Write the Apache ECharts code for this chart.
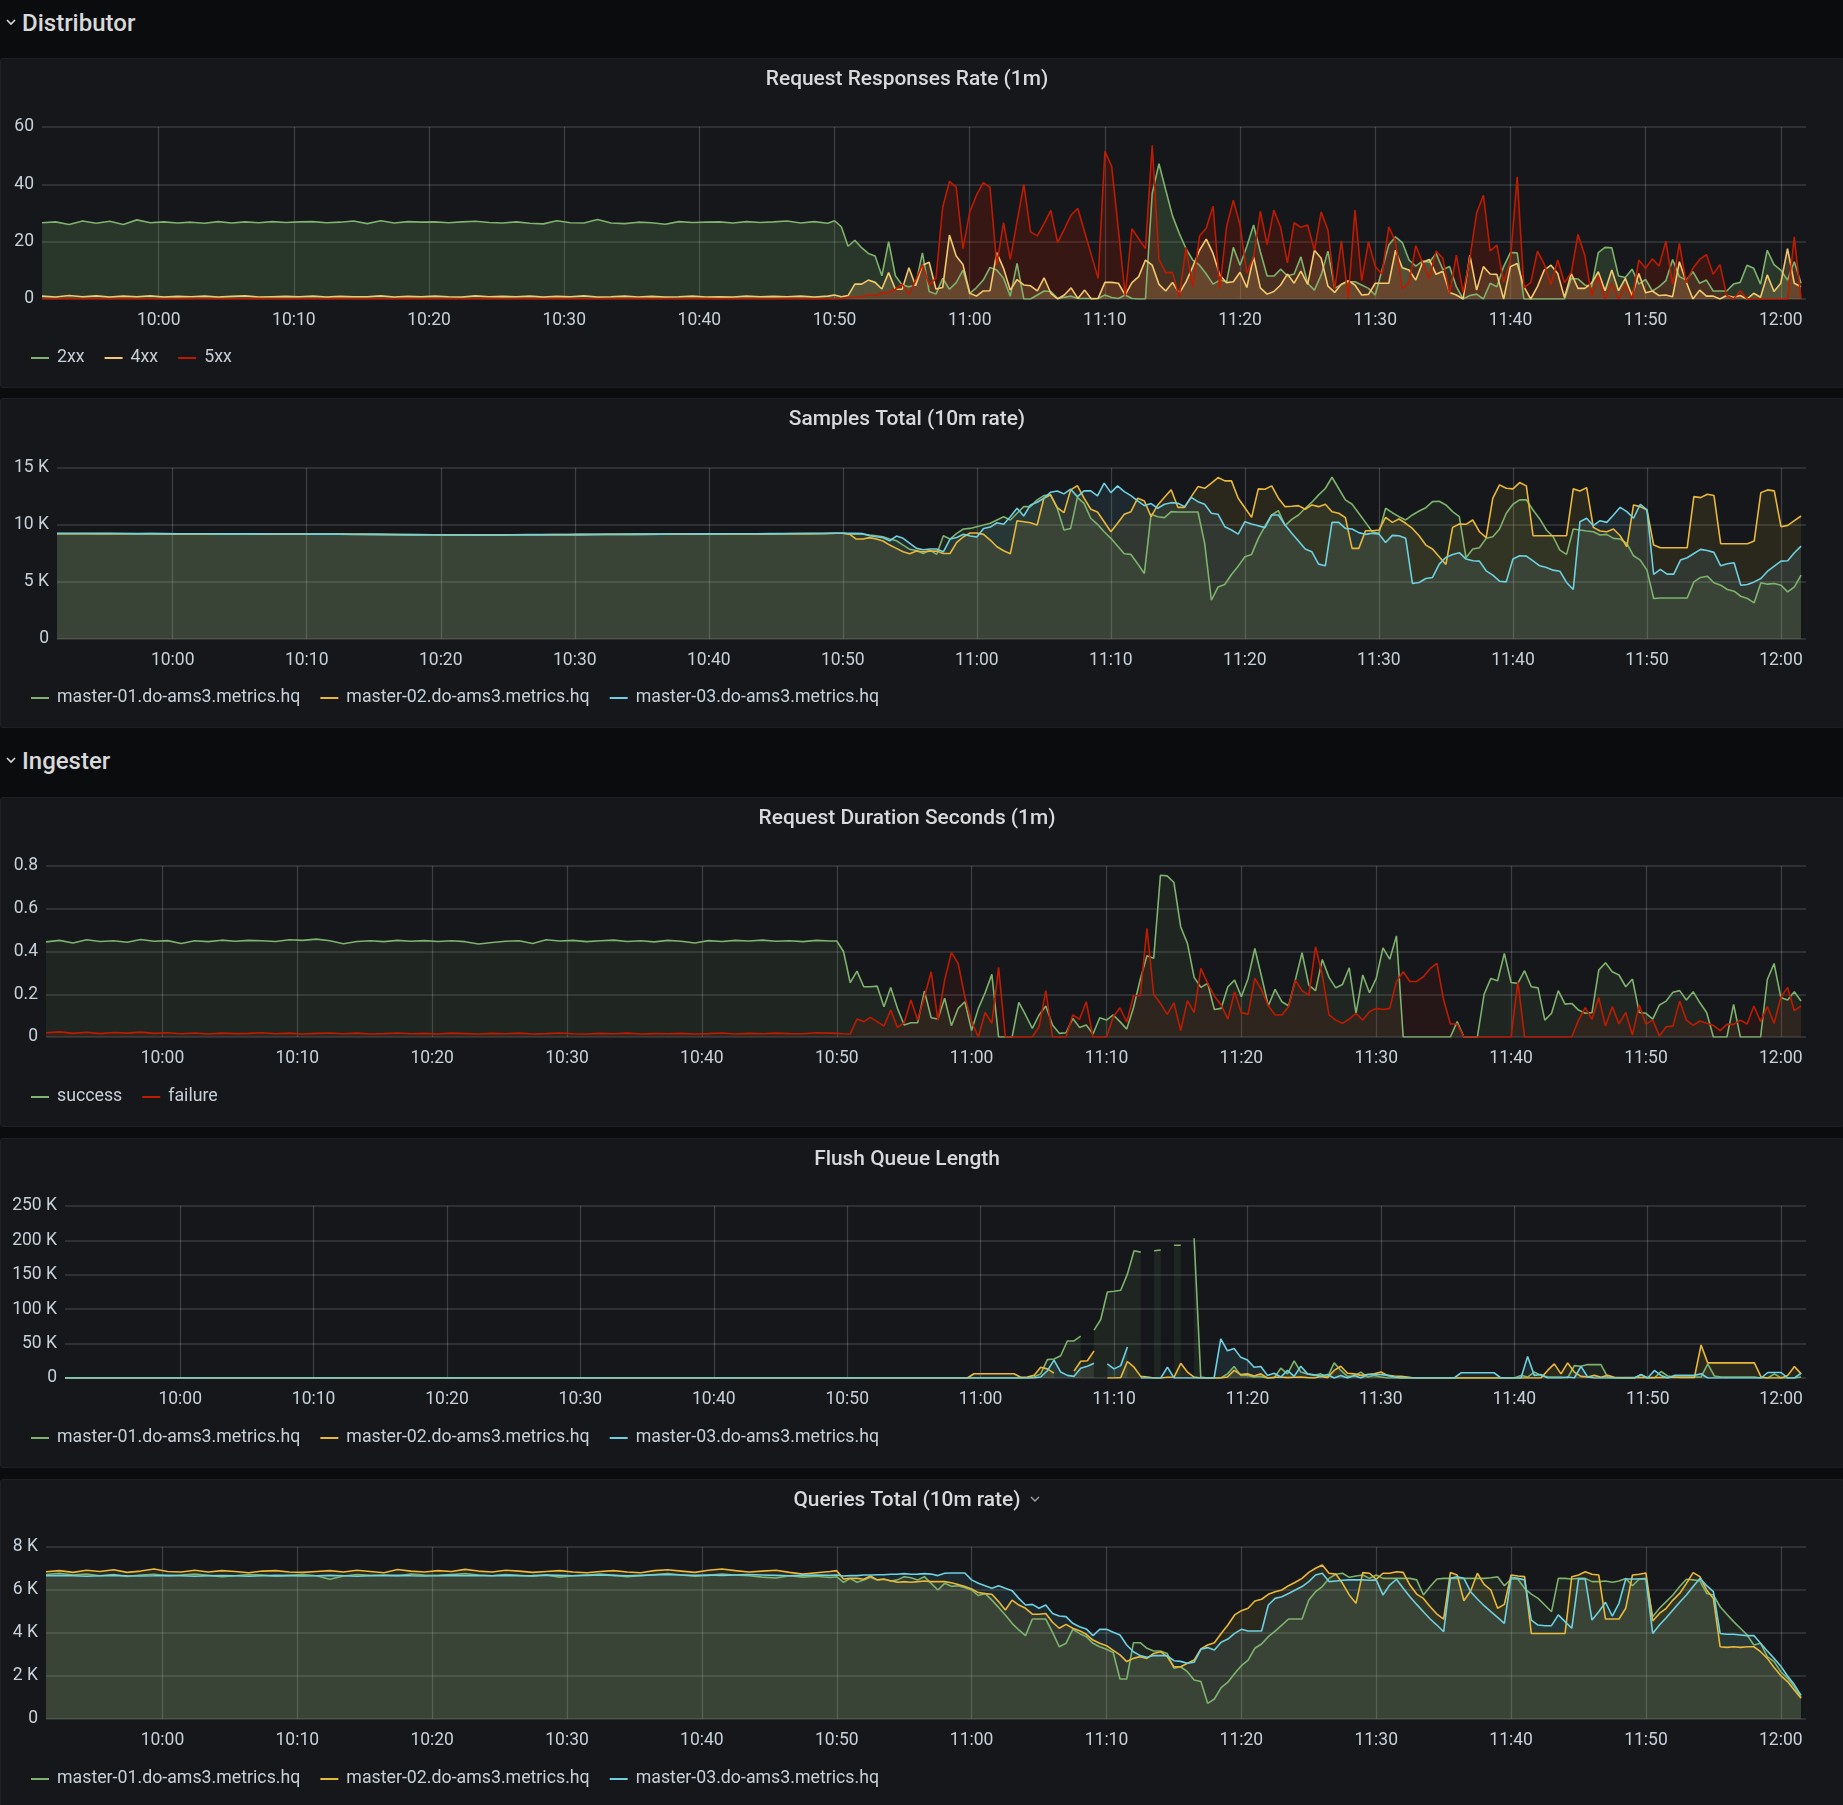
<!DOCTYPE html>
<html>
<head>
<meta charset="utf-8">
<title>Cortex dashboard</title>
<script src="https://cdn.jsdelivr.net/npm/echarts@6/dist/echarts.min.js"></script>
<style>
html, body { margin: 0; padding: 0; width: 1843px; height: 1805px; overflow: hidden; background: #0b0c0e; }
.row-title { position: absolute; left: 22px; color: #d8d9da; font: 500 24px Roboto, sans-serif; line-height: 26px; }
.chevron { position: absolute; }
.panel { position: absolute; left: 0; width: 1842px; height: 328px; background: #15171a; border: 1px solid #1e2023; border-radius: 3px; overflow: hidden; }
.chart { position: absolute; left: -1px; top: -1px; width: 1843px; height: 329px; }
</style>
</head>
<body>
<svg class="chevron" style="left:5px;top:18px" width="12" height="10"><polyline points="2,2 6,6 10,2" fill="none" stroke="#d8d9da" stroke-width="1.6"/></svg>
<div class="row-title" style="top:10px">Distributor</div>
<div class="panel" style="top:58px"><div class="chart" id="panel_responses"></div></div>
<div class="panel" style="top:398px"><div class="chart" id="panel_samples"></div></div>
<svg class="chevron" style="left:5px;top:756px" width="12" height="10"><polyline points="2,2 6,6 10,2" fill="none" stroke="#d8d9da" stroke-width="1.6"/></svg>
<div class="row-title" style="top:748px">Ingester</div>
<div class="panel" style="top:797px"><div class="chart" id="panel_duration"></div></div>
<div class="panel" style="top:1138px"><div class="chart" id="panel_flush"></div></div>
<div class="panel" style="top:1479px"><div class="chart" id="panel_queries"></div></div>
<svg class="chevron" style="left:1029px;top:1495px" width="12" height="10"><polyline points="2,2 6,6 10,2" fill="none" stroke="#9fa3a8" stroke-width="1.4"/></svg>
<script>
// quiet part, roughly one point a minute, up to 10:49:30
var flat2xx = [26.6,26.9,26.0,27.2,26.4,27.1,26.0,27.6,26.6,26.9,26.5,26.8,26.4,27.0,26.5,26.9,26.6,27.0,26.7,26.9,27.0,26.6,26.8,27.2,26.3,27.3,26.5,27.0,26.8,26.9,26.6,26.9,27.1,26.7,26.5,26.9,26.4,26.2,27.3,26.6,26.5,27.7,26.5,26.3,26.8,26.6,26.1,27.0,26.7,26.8,26.9,26.5,27.0,26.7,26.9,27.2,26.5,27.0,26.4];
var flat4xx = [1.0,0.7,1.2,0.8,1.1,0.7,1.0,0.8,1.1,0.7,0.9,0.8,1.0,0.7,0.9,1.1,0.7,0.8,0.9,0.8,1.0,0.7,0.9,0.8,0.8,1.1,0.7,0.9,0.8,1.0,0.8,0.7,1.1,0.8,0.9,0.8,1.0,0.7,0.9,0.8,1.1,0.7,0.8,1.0,0.7,0.9,0.7,0.8,1.0,0.7,0.8,0.7,1.0,0.8,0.9,0.8,1.0,0.7,1.0];
var flat5xx = [0.1,0.1,0.2,0.1,0.1,0.1,0.2,0.1,0.1,0.1,0.1,0.2,0.1,0.1,0.1,0.1,0.2,0.1,0.1,0.1,0.1,0.1,0.2,0.1,0.1,0.1,0.1,0.2,0.1,0.1,0.1,0.1,0.1,0.2,0.1,0.1,0.1,0.1,0.2,0.1,0.1,0.1,0.1,0.1,0.2,0.1,0.1,0.1,0.1,0.2,0.1,0.1,0.1,0.1,0.1,0.2,0.1,0.1,0.1];
var flatSamples01 = [9.25,9.25,9.25,9.24,9.24,9.24,9.23,9.23,9.23,9.22,9.22,9.22,9.22,9.21,9.21,9.21,9.2,9.2,9.2,9.2,9.2,9.19,9.19,9.18,9.18,9.17,9.16,9.15,9.15,9.14,9.14,9.13,9.13,9.13,9.14,9.14,9.15,9.15,9.16,9.16,9.17,9.17,9.18,9.18,9.19,9.19,9.2,9.2,9.21,9.21,9.21,9.22,9.22,9.22,9.23,9.23,9.24,9.25,9.27];
var flatSamples02 = [9.24,9.24,9.24,9.25,9.24,9.23,9.23,9.24,9.22,9.22,9.23,9.22,9.21,9.21,9.22,9.2,9.2,9.21,9.2,9.19,9.19,9.2,9.18,9.18,9.17,9.16,9.15,9.15,9.14,9.13,9.13,9.12,9.13,9.13,9.14,9.15,9.15,9.16,9.15,9.16,9.17,9.18,9.18,9.19,9.18,9.19,9.2,9.21,9.2,9.21,9.22,9.22,9.23,9.22,9.23,9.24,9.24,9.25,9.27];
var flatSamples03 = [9.26,9.26,9.26,9.25,9.25,9.25,9.24,9.24,9.24,9.23,9.23,9.23,9.22,9.22,9.22,9.22,9.21,9.21,9.21,9.2,9.2,9.2,9.19,9.19,9.18,9.17,9.16,9.16,9.15,9.15,9.14,9.14,9.14,9.15,9.15,9.16,9.16,9.17,9.17,9.18,9.18,9.19,9.19,9.2,9.2,9.2,9.21,9.21,9.22,9.22,9.23,9.23,9.23,9.24,9.24,9.25,9.25,9.26,9.27];
var flatSuccess = [.445,.452,.44,.455,.447,.45,.443,.456,.448,.451,.437,.45,.446,.453,.448,.452,.45,.447,.455,.452,.458,.45,.436,.447,.45,.446,.452,.448,.451,.447,.45,.446,.435,.442,.448,.45,.437,.455,.449,.452,.446,.45,.453,.447,.45,.445,.452,.448,.44,.451,.447,.452,.449,.453,.448,.45,.446,.452,.449];
var flatFailure = [.02,.024,.017,.022,.016,.021,.018,.023,.017,.02,.015,.019,.014,.018,.016,.017,.02,.015,.018,.014,.017,.019,.015,.018,.014,.016,.019,.015,.017,.014,.018,.016,.014,.017,.015,.018,.014,.016,.019,.015,.014,.017,.015,.018,.014,.016,.015,.017,.014,.016,.019,.014,.017,.015,.018,.016,.015,.02,.018];
var flatFlush01 = [0,0,0,0,0,0,0,0,0,0,0,0,0,0,0,0,0,0,0,0,0,0,0,0,0,0,0,0,0,0,0,0,0,0,0,0,0,0,0,0,0,0,0,0,0,0,0,0,0,0,0,0,0,0,0,0,0,0,0];
var flatFlush02 = [0,0,0,0,0,0,0,0,0,0,0,0,0,0,0,0,0,0,0,0,0,0,0,0,0,0,0,0,0,0,0,0,0,0,0,0,0,0,0,0,0,0,0,0,0,0,0,0,0,0,0,0,0,0,0,0,0,0,0];
var flatFlush03 = [0,0,0,0,0,0,0,0,0,0,0,0,0,0,0,0,0,0,0,0,0,0,0,0,0,0,0,0,0,0,0,0,0,0,0,0,0,0,0,0,0,0,0,0,0,0,0,0,0,0,0,0,0,0,0,0,0,0,0];
var flatQueries01 = [6.72,6.78,6.7,6.74,6.66,6.72,6.63,6.7,6.73,6.66,6.7,6.74,6.68,6.62,6.66,6.72,6.7,6.64,6.68,6.72,6.66,6.5,6.65,6.72,6.68,6.7,6.66,6.74,6.7,6.68,6.72,6.76,6.7,6.66,6.72,6.68,6.64,6.7,6.6,6.66,6.7,6.74,6.68,6.62,6.66,6.72,6.76,6.7,6.64,6.68,6.74,6.7,6.66,6.6,6.56,6.66,6.6,6.64,6.58];
var flatQueries02 = [6.85,6.9,6.82,6.92,6.86,6.94,6.82,6.88,6.98,6.86,6.84,6.92,6.84,6.9,6.86,6.8,6.88,6.9,6.84,6.82,6.86,6.9,6.84,6.92,6.86,6.8,6.95,6.88,6.84,6.9,6.86,6.96,6.88,6.84,6.92,6.88,6.82,6.86,6.9,6.84,6.8,6.86,6.9,6.84,6.8,6.9,6.94,6.88,6.82,6.92,6.98,6.9,6.84,6.88,6.92,6.82,6.74,6.8,6.86];
var flatQueries03 = [6.66,6.68,6.66,6.64,6.66,6.68,6.66,6.65,6.66,6.68,6.66,6.64,6.66,6.67,6.66,6.64,6.66,6.68,6.67,6.65,6.66,6.68,6.66,6.64,6.66,6.67,6.68,6.66,6.65,6.66,6.68,6.66,6.67,6.66,6.68,6.66,6.67,6.69,6.68,6.66,6.68,6.7,6.68,6.66,6.68,6.7,6.72,6.7,6.68,6.7,6.68,6.7,6.72,6.7,6.68,6.66,6.68,6.7,6.68];

// busy part, one point every 30 s from 10:50:00 on
var active2xx = [27.3,25.2,18.4,20.5,17.9,15.9,15,8.1,20,8.1,
    4.9,4.3,4.9,16.1,2.6,1.7,7.2,3.4,5.7,10.1,
    2,4,6.6,11,10.1,7.2,1,12.4,0,0,
    1.4,2.8,2.6,.2,.6,1,.2,.2,.2,.2,
    1.4,.5,.2,1.4,.2,0,0,36.8,47.2,38,
    29,22.9,17.6,13.6,11.8,8.7,5.2,6.6,6,18,
    11.8,18.4,25.8,16.5,8,8,10.4,8.1,8.7,14.7,
    5.5,3.1,8.4,16.7,3.7,5.1,6,6,4.9,3.7,
    1.4,10.1,18.8,21.7,19.7,13.6,11.5,13.2,12.8,15.9,
    10.3,11.3,4.3,0,1.2,1.7,0,5.5,4.3,11.3,
    16.2,16.1,0,0,0,0,0,0,0,7.2,
    7,4.9,4.3,16.2,18,17.9,8,7.5,10.4,5.2,
    6.8,2.8,4.3,6.4,13.8,7.8,6.6,9.5,5.5,6.6,
    2.8,2.8,2.8,5.2,5.8,11.8,10.7,5.2,17,12,
    10.1,6.6,13,5.5];
var active4xx = [1.4,.8,1.2,5.2,5.2,6.6,5.8,3.5,9.2,3.4,
    3.4,10.9,4.6,11.8,12.8,3.5,4,22.3,15,12,
    2,1,2.8,2.9,16.2,10.7,3.1,6.8,4.9,4.6,
    2.8,7.4,2,0,1.4,3.9,.2,3.1,0,.2,
    5.8,5.8,5.5,1.4,5.7,7.8,13.6,11.8,5.1,2.8,
    5.8,2,6,11.3,17,20.9,15.9,8.4,5.7,6,
    9.3,4,14.7,3.9,1.7,2.6,4.9,8.7,5.5,9.7,
    5.1,17,14.2,4.5,2.3,5.2,6.4,4.9,1.4,1.6,
    5.5,5.5,5.5,17,10.9,10.1,6.6,12.8,13.8,8.6,
    9.7,2.3,1.4,0,15.3,3.1,11.3,8.7,8.6,0,
    11.3,12.4,4.3,0,4.3,10.1,11.8,8.9,.5,8.9,
    3.7,3.7,5.5,9.5,2.9,10.1,2.9,7.2,1.2,8.9,
    2.2,2.8,1.2,1.4,.8,13,6,0,3.1,1,
    1,0,1.2,.6,1.2,0,2,.6,8.4,2.6,
    5.5,17.6,5.5,4.3];
var active5xx = [0,.2,.5,.6,.8,1.4,1.2,2.1,2.3,3.4,
    5.2,1.6,6.6,12,5,7.2,32,41,39,17.6,
    30.4,36.2,40.6,39,12,26.6,13.8,27,40,23.4,
    22,26.3,30.9,19.7,24.4,29.3,31.6,23.4,15.3,7.2,
    51.5,46.3,24,1.2,24.5,21,17.6,53.6,13.8,9.2,
    9.3,.8,18,4.3,22,24.8,32.4,3.5,25.2,34.5,
    25.8,9,14.7,30.6,19,31,25,12.6,26.6,25,
    25.8,17,30.4,24,3.4,20.3,0,31,6.4,20,
    11.3,8.7,25.2,20,3.5,5.7,18.6,12.8,7.2,16.7,
    14.2,2,15.3,2.3,14.2,30,36.2,16.8,18.8,5.8,
    13.6,42.6,4,5.7,16.7,12.2,5.1,13.6,5.7,9.2,
    22.5,15.3,1.2,8,0,5.5,0,4.9,0,13.6,
    10.7,14,11.5,20.2,5.1,19.4,5.7,10.7,13.8,15.5,
    8.6,12,1.2,0,2.9,0,0,0,0,0,
    0,0,21.7,0];

var activeSamples01 = [9.27,9.2,9.2,9.2,9.12,9.06,8.97,8.77,8.62,8.24,
    7.86,7.77,7.5,7.8,7.42,9.06,8.77,9.27,9.65,9.7,
    9.85,10,10.15,10.44,10.73,10.44,11.03,11.61,11.61,12.2,
    12.58,12.64,11.47,9.56,9.7,12.43,11.9,10.59,10.06,9.41,
    8.83,8.15,7.48,7.42,6.6,5.75,10.94,10.73,10.65,11.17,
    11.14,11.14,11.14,11.14,8.39,3.4,4.57,4.78,5.66,6.39,
    7.21,7.42,8.83,9.91,10.88,11.26,9.94,10.5,10.88,11.47,
    12,12.64,13.2,14.19,13.2,12.2,11.82,11.03,10.23,9.41,
    9.27,11.47,11.08,10.73,10.44,10.88,11.23,11.52,12.05,12.08,
    11.76,11.17,10.73,7.13,7.89,8,8.83,8.97,9.65,11.03,
    11.82,12.2,12.2,11.32,10.53,9.56,8.97,7.8,7.42,9.65,
    9.56,9.47,9.41,9.12,9.18,8.83,8.77,8.39,7.3,6.92,
    6.04,3.55,3.6,3.6,3.6,3.6,3.6,5.01,5.4,5.51,
    4.93,4.72,4.34,4.19,3.75,3.55,3.17,4.93,4.81,4.87,
    4.72,4.13,4.57,5.6];
var activeSamples02 = [9.27,9.2,8.77,8.77,8.89,8.77,8.6,8.24,7.95,7.65,
    7.48,7.71,7.65,7.71,7.71,7.5,7.5,8.47,8.97,9.3,
    9.3,9.18,8.68,8.09,7.74,7.48,10.38,10.29,10.2,10,
    12.35,12.64,11.52,11.08,13.08,13.46,12.35,11.38,11.14,10.29,
    9.41,10.15,10.94,11.17,12.35,12.11,10.73,11.76,12.43,13.1,
    11.55,11.55,12.49,13.37,13.22,13.67,14.16,13.87,13.87,12.35,
    11.52,10.67,13.17,13.14,13.43,12.35,11.61,11.64,11.7,11.38,
    11.76,11.61,11.82,11.17,11.03,10.65,7.95,7.95,9.5,9.5,
    9.56,10.67,10.23,10.53,10.15,9.7,9.06,8.24,7.89,7.21,
    6.54,9.79,10.09,10.06,10.44,9.41,8.89,12.35,13.52,13.22,
    13.17,13.72,13.43,9.06,9.06,9.06,9.06,9.06,9.06,13.17,
    12.99,13.28,9.79,9.47,9.41,9.65,9.06,8.09,11.76,11.61,
    11.32,8.24,8,8,8,8,8,12.49,12.4,12.7,
    12.58,8.36,8.36,8.36,8.36,8.36,8.59,12.84,13.08,12.99,
    9.85,9.97,10.38,10.79];
var activeSamples03 = [9.27,9.27,9.27,9.24,9.06,8.97,8.89,8.62,9.03,8.83,
    8.39,7.95,7.83,7.89,7.89,7.65,8.77,8.91,9.18,9.03,
    8.94,9.7,9.82,10.2,10.06,10.73,11.47,10.79,11.76,12,
    12.35,12.87,12.99,12.73,13.14,12.49,12.99,12.99,12.55,13.67,
    12.84,13.43,12.93,12.58,12.11,11.7,11.88,11.47,11.82,11.96,
    11.91,11.61,12.43,12.05,11.82,11.03,10.94,9.85,9.56,9.2,
    10.29,10.09,9.94,9.77,10.88,10.88,10,9.27,8.59,7.89,
    7.65,6.57,6.42,10.23,10.23,9.7,9.65,9.33,9.18,9.27,
    9.2,8.47,9.09,9.06,8.83,4.87,4.96,5.31,5.4,6.57,
    7.16,7.42,7.57,7.01,6.86,6.83,5.98,5.6,5.07,5.01,
    7.01,7.3,7.27,6.86,6.42,6.28,6.04,5.95,4.96,4.34,
    10.29,10.59,9.94,10.38,10.23,10.88,11.55,11.17,10.59,11.82,
    11.32,5.66,6.1,5.69,5.69,6.92,7.13,7.5,7.86,7.77,
    7.6,6.42,6.6,6.69,4.72,4.78,5.01,5.31,5.95,6.39,
    6.83,6.86,7.57,8.15];

var activeSuccess = [.449,.4,.254,.308,.235,.235,.238,.142,.232,.134,
    .056,.067,.067,.215,.09,.084,.181,.053,.134,.165,
    .03,.134,.207,.293,0,0,0,.162,.103,.04,
    .103,.145,.056,.017,.02,.087,.045,.056,.014,.09,
    .079,.103,.072,.037,.137,.269,.38,.368,.757,.754,
    .723,.516,.438,.279,.232,.251,.129,.134,.235,.266,
    .188,.274,.414,.282,.146,.223,.165,.146,.266,.394,
    .243,.217,.363,.279,.23,.246,.324,.111,.29,.207,
    .274,.417,.364,.473,0,0,0,0,0,0,
    0,0,.072,0,0,0,.2,.274,.263,.391,
    .255,.251,.31,.235,.23,.079,.111,.217,.154,.157,
    .126,.111,.114,.313,.347,.305,.29,.235,.271,.115,
    .111,.084,.15,.168,.209,.217,.173,.212,.16,.115,
    0,0,0,.153,0,0,0,0,.269,.344,
    .185,.173,.212,.168];
var activeFailure = [.017,.015,.014,.084,.072,.092,.072,.051,.126,.045,
    .067,.173,.079,.188,.305,.079,.266,.396,.344,.188,
    .072,0,.115,.064,.326,0,0,0,0,0,
    .048,.217,0,0,0,.103,.083,.165,0,0,
    0,.095,.137,.069,.193,.193,.508,.2,.157,.106,
    .16,.03,.17,.114,.321,.251,.192,.15,.084,.212,
    .114,.107,.274,.22,.146,.103,.103,.142,.266,.217,
    .196,.422,.29,.103,.079,.064,.084,.111,.079,.118,
    .134,.129,.134,.259,.305,.26,.26,.282,.321,.344,
    .173,.061,.061,0,0,0,0,0,0,0,
    0,.259,0,0,0,0,0,0,0,0,
    .079,.137,.083,.185,.051,.142,.061,.115,.009,.15,
    .061,.079,.005,.048,.051,.168,.079,.054,.075,.064,
    .054,.03,.059,.059,.079,.061,.145,.072,.142,.064,
    .185,.232,.123,.146];

var activeFlush01 = [0,0,0,0,0,0,0,0,0,0,
    0,0,0,0,0,0,0,0,0,0,
    0,0,0,0,0,0,0,0,1.4,6,
    26.7,27.6,32.4,53.8,54,61,null,69.5,85,125,
    126,127.6,151,185,183,null,185,186,null,193,
    193,null,203,1.4,0,0,0,6,16.7,3.8,
    3.8,1.4,2.4,0,0,14.3,6,25,8.6,5.7,
    3.8,6,1.4,22,11,2.4,2.9,8.6,1.4,3.8,
    1.4,0,0,0,0,0,0,0,0,0,
    0,0,0,0,0,0,0,0,0,0,
    0,3.8,1.4,8.6,3.8,1.4,1.4,1.4,0,18,
    17,19.5,19.5,19.5,1.4,0,0,0,0,5,
    0,0,9.5,2.9,1.4,1.4,1.4,1.4,1.4,20.5,
    2.9,1.4,1.4,1.4,1.4,1.4,1.4,0,0,6,
    0,0,0,1.4];
var activeFlush02 = [0,0,0,0,0,0,0,0,0,0,
    0,0,0,0,0,0,0,0,0,6.2,
    6.2,6.2,6.2,6.2,6.2,6.2,1,1.4,3.8,15.7,
    13.3,7,null,null,10,24.3,25,39.5,null,0,
    0,.5,24,15.7,2.4,1.4,0,0,1,1.4,
    21.4,8.6,1.4,0,0,0,0,1.4,11,5,
    6,3,6,0,1,1.4,.5,1,1.4,.5,
    0,2.4,.5,11,17,7,6,3.8,5,6,
    8.6,3.8,2.9,2.4,1.4,0,0,0,0,0,
    0,0,0,0,0,0,0,0,0,0,
    0,0,0,0,0,11,20.5,6,22,8.6,
    2.4,1.4,3.8,1,3.8,1,.5,.5,.5,.5,
    .5,.5,.5,.5,1,.5,.5,.5,48,22,
    22,22,22,22,22,22,22,1.4,0,0,
    0,3.8,16.7,6];
var activeFlush03 = [0,0,0,0,0,0,0,0,0,0,
    0,0,0,0,0,0,0,0,0,0,
    0,0,0,0,0,0,0,0,0,1.4,
    10.5,26,8.6,3.8,2.4,14.3,17,21.4,null,20.5,
    13.3,18,45,null,0,0,0,0,15.7,0,
    0,0,0,0,0,0,57,39.5,43,30,
    26,15.7,16.7,3.8,7,1.4,11,2.4,17,6,
    4.8,2.4,5,0,3.8,0,3.8,0,5,5,
    5,3.8,1.4,0,0,0,0,0,0,0,
    0,0,7.6,7.6,7.6,7.6,7.6,7.6,0,0,
    0,0,31.4,3.8,5,0,0,0,1.4,0,
    17,1.4,0,0,0,0,0,0,0,4.8,
    0,11,3.8,0,3.8,3.8,3.8,3.8,6.2,0,
    0,0,0,0,0,0,0,0,8,8,
    8,0,0,7];

var activeQueries01 = [6.62,6.36,6.54,6.36,6.47,6.59,6.47,6.51,6.42,6.47,
    6.62,6.57,6.47,6.62,6.31,6,6.31,6.17,6.2,6.11,
    6,5.74,5.84,5.53,5.19,4.84,4.45,4.14,3.88,4.65,
    4.65,4.65,4.03,3.36,3.52,4.17,3.98,3.83,3.52,3.36,
    3.24,3.09,1.86,1.86,3.55,3.55,3.29,3.16,3.16,3.05,
    2.36,2.43,2.2,1.81,1.74,.73,.93,1.46,1.71,2.12,
    2.48,2.74,3.29,3.49,3.83,4.09,4.37,4.65,4.65,4.65,
    5.53,5.92,6.16,6.54,6.73,6.78,6.59,6.65,6.7,6.54,
    6.7,6.54,6.54,6.54,6.54,6.54,6.47,5.77,6.16,6.51,
    6.54,6.54,6.54,6.54,6.54,6.54,6.54,6.57,6.62,6.2,
    6.51,6.51,6.08,5.81,5.61,5.3,4.99,6.54,6.54,6.51,
    6.54,6.54,6.39,6.39,6.42,6.36,6.42,6.54,6.2,6.51,
    6.54,4.76,5.15,5.46,5.77,6.16,6.5,6.47,6.43,5.84,
    5.77,5.22,4.87,4.53,4.22,3.91,3.44,3.52,2.9,2.67,
    2.2,1.89,1.5,1];
var activeQueries02 = [6.9,6.51,6.54,6.54,6.5,6.65,6.47,6.5,6.43,6.36,
    6.39,6.36,6.39,6.42,6.39,6.39,6.39,6.34,6.26,6.16,
    6.05,5.88,5.83,5.8,5.46,5.07,5.53,5.3,5.15,4.88,
    4.87,4.91,4.5,4.22,4.4,4.22,4.11,3.94,3.67,3.52,
    3.41,3.19,2.98,2.67,2.82,2.9,2.82,3.05,3.13,2.9,
    2.43,2.43,2.59,2.74,3.26,3.44,3.55,3.98,4.37,4.84,
    5.04,5.15,5.49,5.57,5.8,5.92,6,6.2,6.36,6.54,
    6.82,7.01,7.16,6.78,6.74,6.31,5.77,5.38,6.81,6.78,
    6.5,6.78,6.78,6.85,6.82,6.23,5.81,5.61,5.22,4.88,
    4.65,6.81,6.7,5.5,5.95,6.78,6.26,6,5.15,5.33,
    6.7,6.65,6.62,3.98,3.98,3.98,3.98,3.98,3.98,6.62,
    6.7,6.85,6.73,6.7,4.65,4.65,4.65,5.15,6.7,6.73,
    6.79,4.56,4.91,5.15,5.53,5.84,6.31,6.81,6.62,6,
    5.61,3.36,3.33,3.36,3.33,3.36,3.36,3.13,2.82,2.4,
    2.02,1.74,1.35,.96];
var activeQueries03 = [6.7,6.65,6.67,6.67,6.7,6.7,6.71,6.71,6.73,6.73,
    6.76,6.73,6.74,6.76,6.74,6.67,6.78,6.79,6.79,6.79,
    6.47,6.31,6.2,6.08,6.2,6.08,5.97,5.61,5.3,5.33,
    5.15,5.3,4.91,4.79,4.76,4.45,4.29,4.19,3.88,4.17,
    4.17,4.03,3.91,3.44,3.13,2.95,2.87,2.95,2.95,2.95,
    2.71,2.68,2.59,2.64,3.24,3.32,3.21,3.57,3.72,3.98,
    4.17,4.09,4.09,4.09,5.3,5.61,5.69,5.84,6,6.16,
    6.39,6.7,6.78,6.39,6.42,6.45,6.47,6.48,6.47,6.45,
    6.47,5.77,6.23,6.5,6.08,5.69,5.33,4.99,4.65,4.37,
    4.06,6.54,6.62,6.54,5.92,5.58,5.27,4.99,4.73,4.45,
    6.59,6.54,6.47,4.6,4.37,4.34,4.34,4.84,4.53,4.22,
    6.51,6.51,4.6,4.99,5.43,4.79,5.38,6.51,6.51,6.51,
    6.51,3.98,4.37,4.71,5.07,5.43,5.77,6.16,6.54,6.2,
    5.92,3.98,3.94,3.94,3.91,3.88,3.88,3.52,3.16,2.82,
    2.45,2,1.6,1.1];

var hostNames = ['master-01.do-ams3.metrics.hq', 'master-02.do-ams3.metrics.hq', 'master-03.do-ams3.metrics.hq'];
var green = '#7eb26d', yellow = '#eab839', paleYellow = '#f2c96d', cyan = '#6ed0e0', red = '#bf1b00';
var fontName = 'Roboto, sans-serif';

var rangeStart = new Date(2020, 0, 1, 9, 51, 22).getTime();
var rangeEnd = new Date(2020, 0, 1, 12, 1, 52).getTime();
var flatStart = new Date(2020, 0, 1, 9, 51, 22).getTime();
var activeStart = new Date(2020, 0, 1, 10, 50, 0).getTime();

/**
 * pair the quiet and the busy values with their timestamps
 * */
function toPoints(flat, active) {
    var points = [];
    var flatStep = (activeStart - 30000 - flatStart) / (flat.length - 1);
    for (var i = 0; i < flat.length; i++) {
        points.push([flatStart + i * flatStep, flat[i]]);
    }
    for (var j = 0; j < active.length; j++) {
        points.push([activeStart + j * 30000, active[j]]);
    }
    return points;
}

function makeSeries(name, color, flat, active, fill) {
    return {
        name: name,
        type: 'line',
        showSymbol: false,
        symbol: 'none',
        animation: false,
        lineStyle: {color: color, width: 1.6},
        itemStyle: {color: color},
        areaStyle: {color: color, opacity: fill},
        data: toPoints(flat, active)
    };
}

/**
 * render one dashboard panel
 * */
function renderPanel(id, panel) {
    var chart = echarts.init(document.getElementById(id));
    chart.setOption({
        backgroundColor: 'transparent',
        animation: false,
        textStyle: {fontFamily: fontName},
        title: {
            text: panel.title,
            left: 902,
            top: 6,
            textAlign: 'center',
            textStyle: {color: '#d8d9da', fontSize: 20.9, fontWeight: 500, fontFamily: fontName}
        },
        legend: {
            left: 26,
            top: 286,
            icon: 'rect',
            itemWidth: 18,
            itemHeight: 2,
            itemGap: 20,
            textStyle: {color: '#c7d0d9', fontSize: 17.75, fontFamily: fontName, padding: [0, 0, 0, 3]}
        },
        grid: {left: panel.left, right: 37, top: panel.top, height: panel.height},
        xAxis: {
            type: 'time',
            min: rangeStart,
            max: rangeEnd,
            // 11 min asks the time scale for its 10 min tick level
            minInterval: 660000,
            maxInterval: 660000,
            axisLine: {show: false},
            axisTick: {show: false},
            axisLabel: {
                color: '#c7d0d9',
                fontSize: 17.5,
                fontFamily: fontName,
                margin: 13,
                showMinLabel: false,
                showMaxLabel: false,
                formatter: '{HH}:{mm}'
            },
            splitLine: {show: true, showMinLine: false, showMaxLine: false, lineStyle: {color: 'rgba(255,255,255,.17)', width: 1.3}}
        },
        yAxis: {
            type: 'value',
            min: 0,
            max: panel.max,
            interval: panel.interval,
            axisLine: {show: false},
            axisTick: {show: false},
            axisLabel: {
                color: '#c7d0d9',
                fontSize: 17.5,
                fontFamily: fontName,
                margin: 8,
                formatter: function(value) {
                    return value !== 0 && panel.suffix ? value + panel.suffix : String(value);
                }
            },
            splitLine: {show: true, lineStyle: {color: 'rgba(255,255,255,.15)', width: 1.6}}
        },
        series: panel.series
    });
}

renderPanel('panel_responses', {
    title: 'Request Responses Rate (1m)', left: 42, top: 69, height: 172, max: 60, interval: 20,
    series: [
        makeSeries('2xx', green, flat2xx, active2xx, .2),
        makeSeries('4xx', paleYellow, flat4xx, active4xx, .2),
        makeSeries('5xx', red, flat5xx, active5xx, .2)
    ]
});
renderPanel('panel_samples', {
    title: 'Samples Total (10m rate)', left: 57, top: 70, height: 171, max: 15, interval: 5, suffix: ' K',
    series: [
        makeSeries(hostNames[0], green, flatSamples01, activeSamples01, .1),
        makeSeries(hostNames[1], yellow, flatSamples02, activeSamples02, .1),
        makeSeries(hostNames[2], cyan, flatSamples03, activeSamples03, .1)
    ]
});
renderPanel('panel_duration', {
    title: 'Request Duration Seconds (1m)', left: 46, top: 69, height: 171, max: .8, interval: .2,
    series: [
        makeSeries('success', green, flatSuccess, activeSuccess, .1),
        makeSeries('failure', red, flatFailure, activeFailure, .1)
    ]
});
renderPanel('panel_flush', {
    title: 'Flush Queue Length', left: 65, top: 68, height: 172, max: 250, interval: 50, suffix: ' K',
    series: [
        makeSeries(hostNames[0], green, flatFlush01, activeFlush01, .1),
        makeSeries(hostNames[1], yellow, flatFlush02, activeFlush02, .1),
        makeSeries(hostNames[2], cyan, flatFlush03, activeFlush03, .1)
    ]
});
renderPanel('panel_queries', {
    title: 'Queries Total (10m rate)', left: 46, top: 68, height: 172, max: 8, interval: 2, suffix: ' K',
    series: [
        makeSeries(hostNames[0], green, flatQueries01, activeQueries01, .1),
        makeSeries(hostNames[1], yellow, flatQueries02, activeQueries02, .1),
        makeSeries(hostNames[2], cyan, flatQueries03, activeQueries03, .1)
    ]
});
</script>
</body>
</html>
